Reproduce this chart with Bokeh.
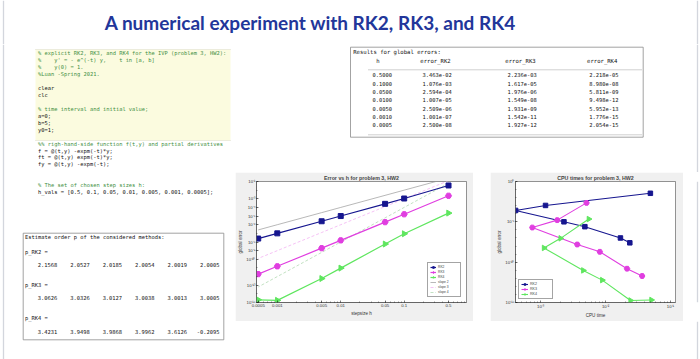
import math
from bokeh.plotting import figure
from bokeh.models import (Range1d, ColumnDataSource, FixedTicker, CustomJSTickFormatter,
                          Legend, LegendItem, Title)
from bokeh.layouts import row, column
from bokeh.core.properties import value
from bokeh.embed import file_html
from bokeh.resources import INLINE

# ---------------- data ----------------
TITLE = "A numerical experiment with RK2, RK3, and RK4"

code_lines = [
    "% explicit RK2, RK3, and RK4 for the IVP (problem 3, HW2):",
    "%    y' = - e^(-t) y,    t in [a, b]",
    "%    y(0) = 1.",
    "%Luan -Spring 2021.",
    "",
    "clear",
    "clc",
    "",
    "% time interval and initial value;",
    "a=0;",
    "b=5;",
    "y0=1;",
    "",
    "%% righ-hand-side function f(t,y) and partial derivatives",
    "f = @(t,y) -expm(-t)*y;",
    "ft = @(t,y) expm(-t)*y;",
    "fy = @(t,y) -expm(-t);",
    "",
    "",
    "% The set of chosen step sizes h:",
    "h_vals = [0.5, 0.1, 0.05, 0.01, 0.005, 0.001, 0.0005];",
]

h_vals = [0.5, 0.1, 0.05, 0.01, 0.005, 0.001, 0.0005]
err_rk2 = [3.463e-02, 1.076e-03, 2.594e-04, 1.007e-05, 2.509e-06, 1.001e-07, 2.500e-08]
err_rk3 = [2.236e-03, 1.617e-05, 1.976e-06, 1.549e-08, 1.931e-09, 1.542e-11, 1.927e-12]
err_rk4 = [2.218e-05, 8.980e-08, 5.811e-09, 9.498e-12, 5.952e-13, 1.776e-15, 2.054e-15]

slope2 = [2.5e-01, 1.0e-02, 2.5e-03, 1.0e-04, 2.5e-05, 1.0e-06, 2.5e-07]
slope3 = [1.25e-01, 1.0e-03, 1.25e-04, 1.0e-06, 1.25e-07, 1.0e-09, 1.25e-10]
slope4 = [6.25e-02, 1.0e-04, 6.25e-06, 1.0e-08, 6.25e-10, 1.0e-12, 6.25e-14]

cpu_rk2 = [0.0492, 0.00119, 0.000412, 0.00229, 0.00481, 0.0170, 0.0237]
cpu_rk3 = [0.0051, 0.0018, 0.000745, 0.00367, 0.00818, 0.0215, 0.0367]
cpu_rk4 = [0.00553, 0.00203, 0.001125, 0.00454, 0.00889, 0.0243, 0.0510]

order_names = ["p_RK2 =", "p_RK3 =", "p_RK4 ="]
p_rk2 = ["2.1568", "2.0527", "2.0185", "2.0054", "2.0019", "2.0005"]
p_rk3 = ["3.0626", "3.0326", "3.0127", "3.0038", "3.0013", "3.0005"]
p_rk4 = ["3.4231", "3.9498", "3.9868", "3.9962", "3.6126", "-0.2095"]

table_headers = ["h", "error_RK2", "error_RK3", "error_RK4"]

# ---------------- styles ----------------
MONO = value("DejaVu Sans Mono")
C_RK2 = "#16168f"
C_RK3 = "#e03ee0"
C_RK4 = "#5fe65f"
C_COMMENT = "#3f8f3f"
C_EDGE = "#d3d6dd"


def nb(s):
    return s.replace("  ", "\u00a0\u00a0")


def canvas(w, h, x0, y0):
    p = figure(width=w, height=h, x_range=Range1d(x0, x0 + w), y_range=Range1d(y0 + h, y0),
               output_backend="svg", toolbar_location=None, min_border=0,
               x_axis_location=None, y_axis_location=None)
    p.grid.visible = False
    p.outline_line_color = None
    p.background_fill_color = "white"
    p.border_fill_color = "white"
    return p


def edges(p, y0, y1, left=True, right=True):
    xs = ([3] if left else []) + ([697] if right else [])
    p.segment(x0=xs, y0=[y0] * len(xs), x1=xs, y1=[y1] * len(xs), line_color=C_EDGE, line_width=1.3)


# ---------- title ----------
ft = canvas(700, 44, 0, 0)
edges(ft, 0, 44)
ft.text(x=[310], y=[21.5], text=[TITLE], text_font=value("Lato"), text_font_style="bold",
        text_font_size="19px", text_color="#22369a", text_align="center", text_baseline="middle")

# ---------- left panel (code + order estimates) ----------
fl = canvas(235, 315, 0, 44)
edges(fl, 44, 359, right=False)
fl.quad(left=[35], right=[230], top=[49], bottom=[140], fill_color="#fbfbdf", line_color=None)
fl.segment(x0=[35, 35], y0=[49, 140], x1=[230, 230], y1=[49, 140], line_color="#c8c8b0",
           line_width=0.6, line_dash="1 1")
ys = [52.7 + i * 6.95 for i in range(len(code_lines))]
cols = [C_COMMENT if s.startswith("%") else "#111111" for s in code_lines]
fl.text(x=[37.5] * len(code_lines), y=ys, text=[nb(s) for s in code_lines], text_color=cols,
        text_font=MONO, text_font_size="5.4px", text_baseline="middle", text_align="left")

fl.quad(left=[22.7], right=[223.3], top=[232.7], bottom=[339.3], fill_color="white",
        line_color="#8c8c8c", line_width=0.8)
fl.text(x=[24.5], y=[236.5], text=["Estimate order p of the considered methods:"],
        text_font=MONO, text_font_size="5.4px", text_baseline="middle", text_color="#111111")
for k, (name, vals) in enumerate(zip(order_names, [p_rk2, p_rk3, p_rk4])):
    y0 = 251 + k * 33.3
    fl.text(x=[24.5], y=[y0], text=[name], text_font=MONO, text_font_size="5.4px",
            text_baseline="middle", text_color="#111111")
    xs = [56.7 + j * 32.45 for j in range(len(vals))]
    fl.text(x=xs, y=[y0 + 13.5] * len(vals), text=vals, text_font=MONO, text_font_size="5.4px",
            text_baseline="middle", text_align="right", text_color="#111111")

# ---------- table ----------
fr = canvas(465, 128, 235, 44)
edges(fr, 44, 172, left=False)
fr.quad(left=[350], right=[642.7], top=[46.7], bottom=[136.7], fill_color="white",
        line_color="#8c8c8c", line_width=0.8)
fr.text(x=[352.7], y=[51.7], text=["Results for global errors:"], text_font=MONO,
        text_font_size="5.6px", text_baseline="middle", text_color="#111111")
fr.text(x=[377.5, 435, 520, 601.7], y=[60] * 4, text=table_headers, text_font=MONO,
        text_font_size="5.6px", text_baseline="middle", text_align="center", text_color="#111111")
fr.segment(x0=[368, 368], y0=[69.3, 134.3], x1=[641, 641], y1=[69.3, 134.3],
           line_color="#8a8a8a", line_width=0.8, line_dash="1 1")
row_y = [74.7 + i * 8.38 for i in range(len(h_vals))]
for cx, vals, fmt in [(381.7, h_vals, "{:.4f}"), (436.7, err_rk2, "{:.3e}"),
                      (521.7, err_rk3, "{:.3e}"), (603.3, err_rk4, "{:.3e}")]:
    fr.text(x=[cx] * len(vals), y=row_y, text=[fmt.format(v) for v in vals], text_font=MONO,
            text_font_size="5.4px", text_baseline="middle", text_align="center",
            text_color="#111111")

# ---------- charts ----------
SUP = CustomJSTickFormatter(code="""
const s = {'-':'\u207b','0':'\u2070','1':'\u00b9','2':'\u00b2','3':'\u00b3','4':'\u2074','5':'\u2075','6':'\u2076','7':'\u2077','8':'\u2078','9':'\u2079'};
const e = Math.round(Math.log10(tick));
return '10' + String(e).split('').map(c => s[c]).join('');
""")
PLAIN = CustomJSTickFormatter(code="return tick.toString();")


def chart(w, h, xr, yr, bl, br, bt, bb, title, xlabel):
    p = figure(width=w, height=h, x_axis_type="log", y_axis_type="log",
               x_range=Range1d(*xr), y_range=Range1d(*yr), output_backend="svg",
               toolbar_location=None, min_border_left=bl, min_border_right=br,
               min_border_top=bt, min_border_bottom=bb, title=title)
    p.border_fill_color = "#f0f0f0"
    p.background_fill_color = "white"
    p.grid.visible = False
    p.outline_line_color = "#4a4a4a"
    p.outline_line_width = 0.6
    p.title.text_font = "Liberation Sans"
    p.title.text_font_size = "5.3px"
    p.title.text_font_style = "bold"
    p.title.align = "center"
    p.title.standoff = 1
    p.title.offset = 0
    for ax in (p.xaxis[0], p.yaxis[0]):
        ax.axis_line_color = "#4a4a4a"
        ax.axis_line_width = 0.6
        ax.major_tick_in = 2
        ax.major_tick_out = 0
        ax.minor_tick_in = 1
        ax.minor_tick_out = 0
        ax.major_tick_line_width = 0.5
        ax.minor_tick_line_width = 0.4
        ax.major_label_text_font = "Liberation Sans"
        ax.major_label_text_font_size = "4.3px"
        ax.major_label_text_color = "#333333"
        ax.major_label_standoff = 1
    p.xaxis.axis_label = xlabel
    p.xaxis.axis_label_text_font = "Liberation Sans"
    p.xaxis.axis_label_text_font_size = "4.6px"
    p.xaxis.axis_label_text_font_style = "normal"
    p.xaxis.axis_label_text_color = "#333333"
    p.xaxis.axis_label_standoff = 1
    p.add_layout(Title(text="global error", align="center", text_font="Liberation Sans",
                       text_font_size="4.6px", text_font_style="normal",
                       text_color="#333333", standoff=1, offset=0), "left")
    return p


def style_legend(leg, loc, font="3.6px", gw=7):
    leg.location = loc
    leg.label_text_font = "Liberation Sans"
    leg.label_text_font_size = font
    leg.label_height = 4
    leg.glyph_height = 4
    leg.glyph_width = gw
    leg.spacing = 1
    leg.padding = 2
    leg.margin = 5
    leg.label_standoff = 2
    leg.border_line_color = "#4a4a4a"
    leg.border_line_width = 0.5
    leg.background_fill_alpha = 1


MINOR = [k * 10.0 ** e for e in (-4, -3, -2, -1) for k in range(2, 10)]

# chart 1: error vs h
c1 = chart(238, 149, (0.00047, 0.96), (1e-15, 1e-1), 20, 7, 8, 14,
           "Error vs h for problem 3, HW2", "stepsize h")
c1.xaxis.ticker = FixedTicker(ticks=h_vals[::-1], minor_ticks=MINOR)
c1.xaxis.formatter = PLAIN
c1.yaxis.ticker = FixedTicker(ticks=[1e-1, 1e-3, 1e-4, 1e-5, 1e-6, 1e-8, 1e-9, 1e-10, 1e-13, 1e-15],
                              minor_ticks=[10.0 ** -e for e in range(16)])
c1.yaxis.formatter = SUP

src1 = ColumnDataSource(dict(h=h_vals, e2=err_rk2, e3=err_rk3, e4=err_rk4,
                             s2=slope2, s3=slope3, s4=slope4))
ls2 = c1.line("h", "s2", source=src1, color="#9a9a9a", line_width=0.7)
ls3 = c1.line("h", "s3", source=src1, color="#f0a8f0", line_width=0.7, line_dash="3 2")
ls4 = c1.line("h", "s4", source=src1, color="#a8d4a8", line_width=0.7, line_dash="3 2")
l2 = c1.line("h", "e2", source=src1, color=C_RK2, line_width=1.2)
m2 = c1.scatter("h", "e2", source=src1, marker="square", size=5, color=C_RK2)
l3 = c1.line("h", "e3", source=src1, color=C_RK3, line_width=1.2)
m3 = c1.scatter("h", "e3", source=src1, marker="hex", size=6, color=C_RK3)
l4 = c1.line("h", "e4", source=src1, color=C_RK4, line_width=1.2)
m4 = c1.scatter("h", "e4", source=src1, marker="triangle", size=6, angle=-math.pi / 2, color=C_RK4)
leg1 = Legend(items=[LegendItem(label="RK2", renderers=[l2, m2]),
                     LegendItem(label="RK3", renderers=[l3, m3]),
                     LegendItem(label="RK4", renderers=[l4, m4]),
                     LegendItem(label="slope 2", renderers=[ls2]),
                     LegendItem(label="slope 3", renderers=[ls3]),
                     LegendItem(label="slope 4", renderers=[ls4])])
style_legend(leg1, "bottom_right", font="3.3px", gw=6)
c1.add_layout(leg1)

# chart 2: CPU times
c2 = chart(193, 149, (4.1e-4, 0.12), (1e-15, 1), 25, 8, 7, 19,
           "CPU times for problem 3, HW2", "CPU time")
c2.xaxis.ticker = FixedTicker(ticks=[1e-3, 1e-2, 1e-1], minor_ticks=MINOR)
c2.xaxis.formatter = SUP
c2.yaxis.ticker = FixedTicker(ticks=[1, 1e-5, 1e-10, 1e-15],
                              minor_ticks=[10.0 ** -e for e in range(16)])
c2.yaxis.formatter = SUP
src2 = ColumnDataSource(dict(t2=cpu_rk2, t3=cpu_rk3, t4=cpu_rk4, e2=err_rk2, e3=err_rk3, e4=err_rk4))
a2 = c2.line("t2", "e2", source=src2, color=C_RK2, line_width=1.1)
b2 = c2.scatter("t2", "e2", source=src2, marker="square", size=4.5, color=C_RK2)
a3 = c2.line("t3", "e3", source=src2, color=C_RK3, line_width=1.1)
b3 = c2.scatter("t3", "e3", source=src2, marker="hex", size=5.5, color=C_RK3)
a4 = c2.line("t4", "e4", source=src2, color=C_RK4, line_width=1.1)
b4 = c2.scatter("t4", "e4", source=src2, marker="triangle", size=5.5, angle=-math.pi / 2, color=C_RK4)
leg2 = Legend(items=[LegendItem(label="RK2", renderers=[a2, b2]),
                     LegendItem(label="RK3", renderers=[a3, b3]),
                     LegendItem(label="RK4", renderers=[a4, b4])])
style_legend(leg2, "bottom_left")
leg2.margin = 3
c2.add_layout(leg2)

gap = canvas(17, 149, 473, 172)
pad = canvas(17, 149, 683, 172)
edges(pad, 172, 321, left=False)
fb = canvas(465, 38, 235, 321)
edges(fb, 321, 359, left=False)

layout = column(ft, row(fl, column(fr, row(c1, gap, c2, pad), fb)))

open("out.html", "w").write(file_html(layout, INLINE))
